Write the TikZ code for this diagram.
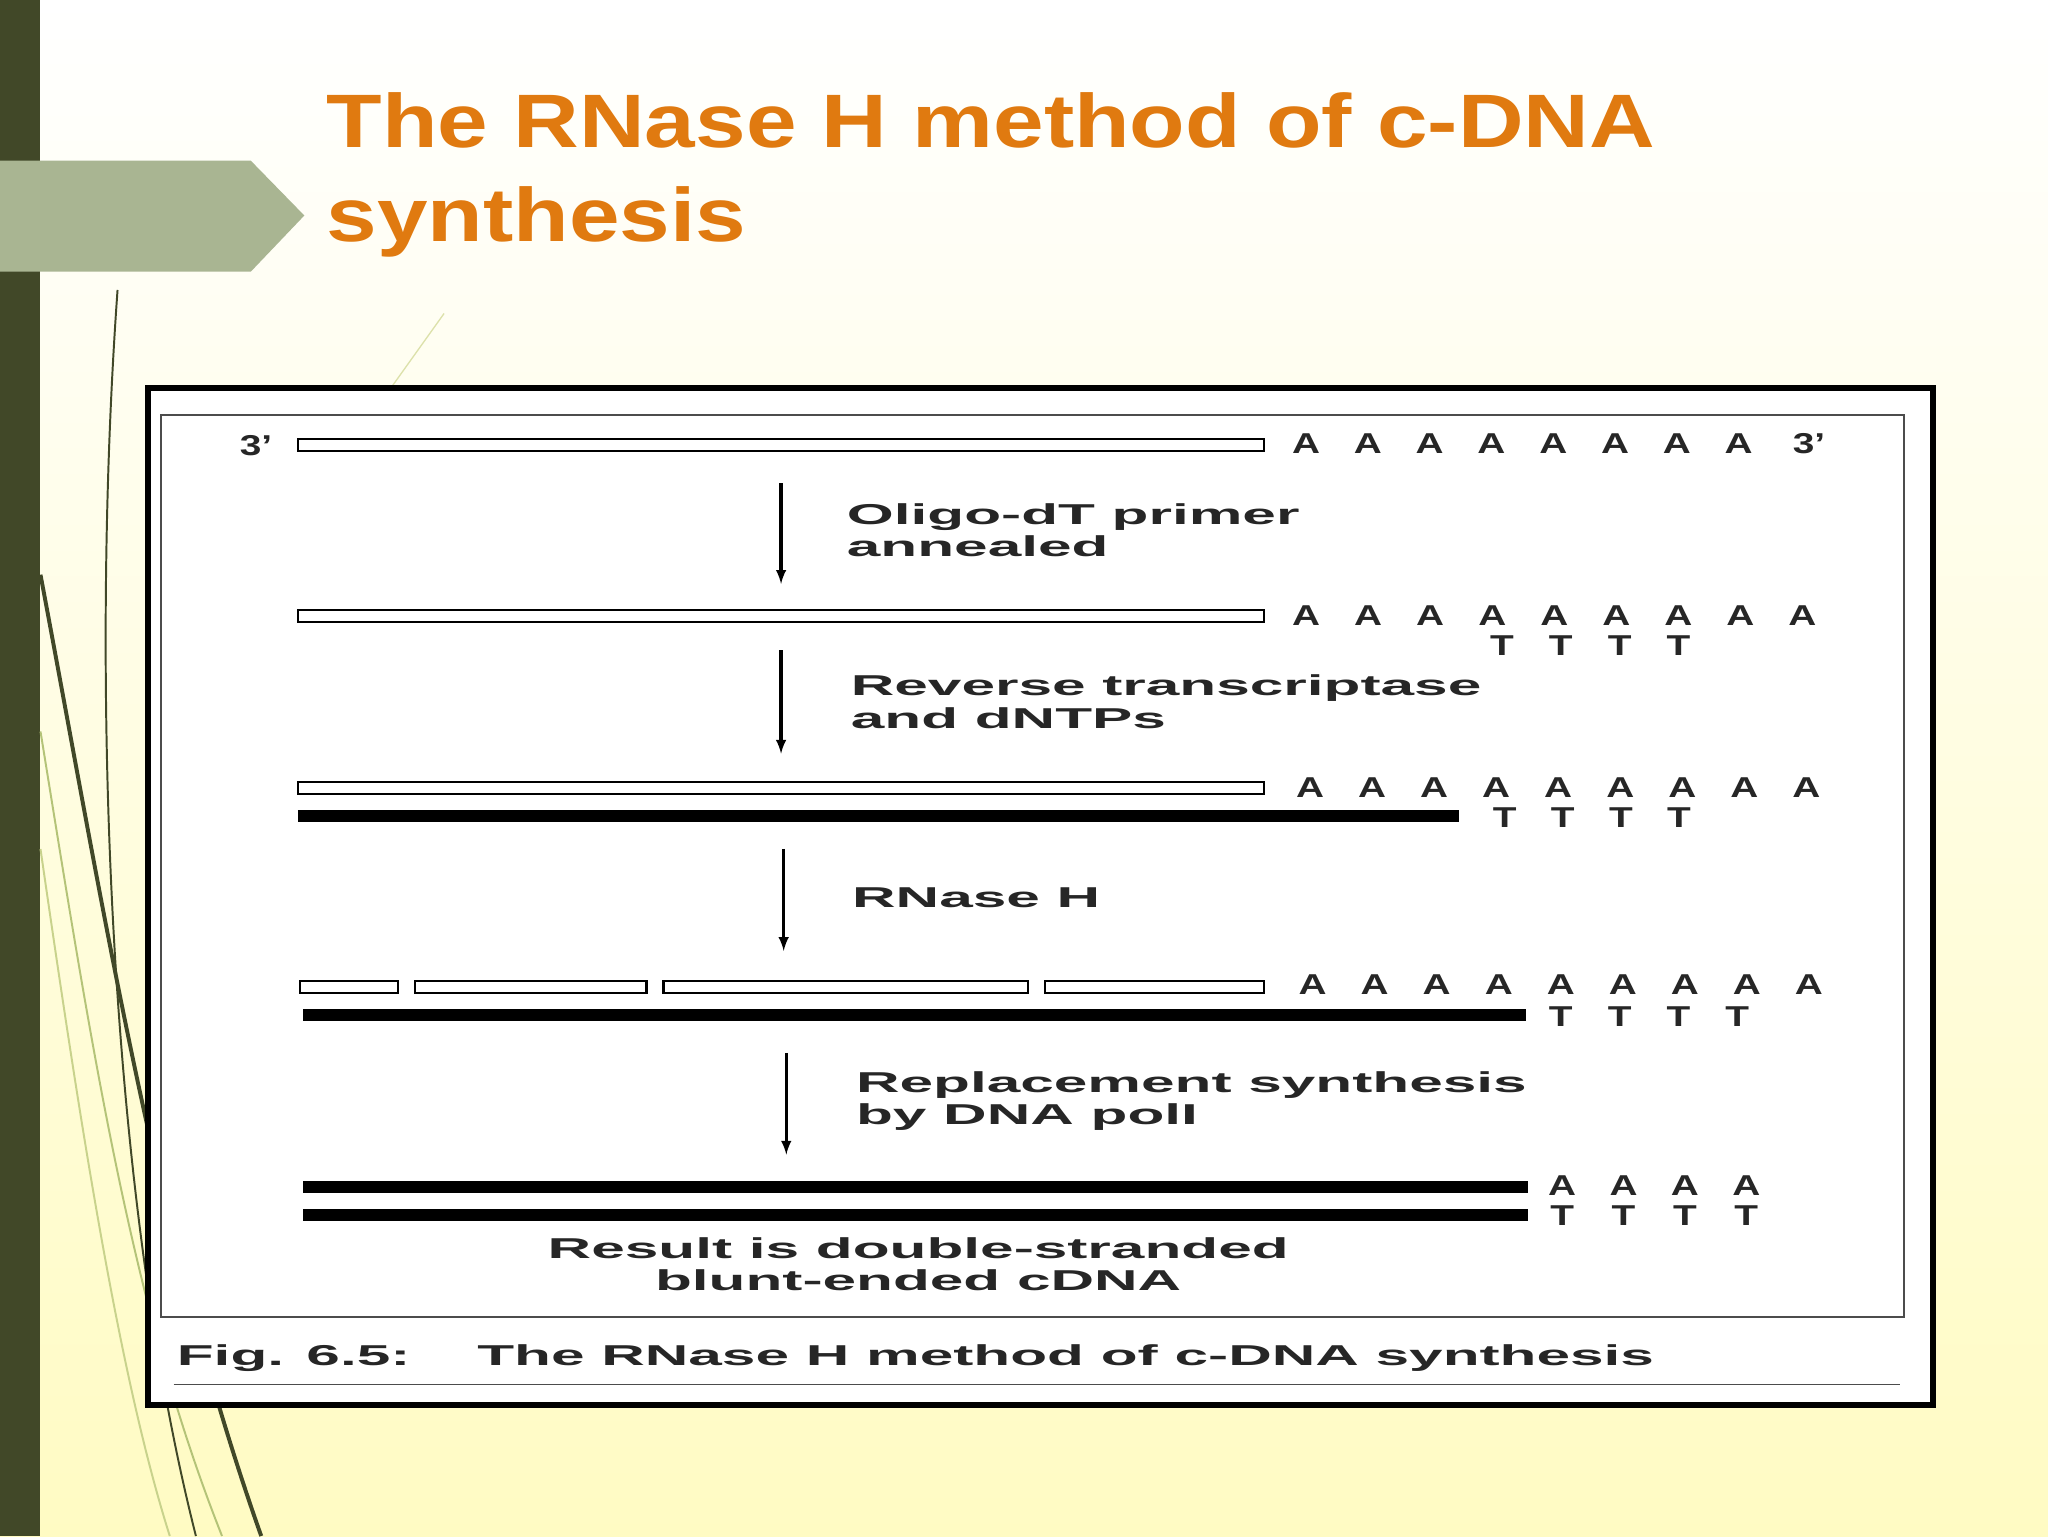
\documentclass[tikz,border=0pt]{standalone}
\usepackage{fontspec}
\setmainfont{Liberation Sans}
\definecolor{darkol}{RGB}{65,72,40}
\definecolor{sage}{RGB}{169,181,146}
\definecolor{lg1}{RGB}{180,195,120}
\definecolor{lg2}{RGB}{200,210,140}
\definecolor{lg3}{RGB}{220,225,170}
\definecolor{ttl}{RGB}{224,122,16}
\definecolor{bgy}{RGB}{255,251,195}
\begin{document}
\begin{tikzpicture}[x=1pt,y=-1pt,
  rna/.style={draw=black,line width=1.6pt,fill=white},
  dna/.style={line width=9pt,draw=black},
  base/.style={font=\fontsize{22}{22}\selectfont\bfseries,xscale=1.35,inner sep=0pt,text=black!85},
  lab/.style={font=\fontsize{22}{25}\selectfont\bfseries,xscale=2.1,anchor=west,align=left,inner sep=0pt,text=black!85},
  down/.style={-latex,line width=2.6pt}]
\useasboundingbox (0,0) rectangle (1568,1176);
\shade[top color=white,bottom color=bgy] (0,0) rectangle (1568,1176);
\fill[darkol] (0,0) rectangle (31,1176);
\fill[sage] (0,123) -- (192,123) -- (233,165) -- (192,208) -- (0,208) -- cycle;
\begin{scope}[line width=1.5pt]
\draw[darkol] (90,222) .. controls (70,500) and (80,900) .. (150,1176);
\draw[darkol,line width=3pt] (31,440) .. controls (80,700) and (120,950) .. (200,1176);
\draw[lg1] (31,560) .. controls (70,800) and (100,1000) .. (170,1176);
\draw[lg2] (31,650) .. controls (60,850) and (90,1050) .. (130,1176);
\draw[lg3,line width=1pt] (340,240) -- (300,296);
\end{scope}
\node[anchor=west,text=ttl,font=\fontsize{58}{72}\selectfont\bfseries,xscale=1.2,align=left,inner sep=0pt] (title) at (250,134) {The RNase H method of c-DNA\\synthesis};
\draw[line width=4.5pt,fill=white] (113,297) rectangle (1480,1076);
\draw[line width=1.5pt,black!70] (123,318) rectangle (1458,1008);
\draw[line width=1.5pt,black!70] (133,1060) -- (1455,1060);
\node[lab] (cap) at (135,1040) {Fig. 6.5:};
\node[lab] (cap2) at (365,1040) {The RNase H method of c-DNA synthesis};
% row1
\node[base] (t3a) at (196,341) {3'};
\draw[rna] (228,336) rectangle (968,345);
\foreach \i in {0,...,7} \node[base] (a1\i) at (1000+47.3*\i,340) {A};
\node[base] (t3b) at (1385,340) {3'};
\draw[down] (598,370) -- (598,447);
\node[lab] (l1) at (648,406) {Oligo-dT primer\\annealed};
% row2
\draw[rna] (228,467) rectangle (968,476);
\foreach \i in {0,...,8} \node[base] (a2\i) at (1000+47.5*\i,471) {A};
\foreach \i in {0,...,3} \node[base] (t2\i) at (1150+45*\i,494) {T};
\draw[down] (598,498) -- (598,577);
\node[lab] (l2) at (651,537) {Reverse transcriptase\\and dNTPs};
% row3
\draw[rna] (228,599) rectangle (968,608);
\foreach \i in {0,...,8} \node[base] (a3\i) at (1003+47.5*\i,603) {A};
\draw[dna] (228,625) -- (1117,625);
\foreach \i in {0,...,3} \node[base] (t3\i) at (1152+44.5*\i,626) {T};
\draw[down] (600,650) -- (600,728);
\node[lab] (l3) at (652,687) {RNase H};
% row4
\draw[rna] (230,751) rectangle (305,760);
\draw[rna] (318,751) rectangle (495,760);
\draw[rna] (508,751) rectangle (787,760);
\draw[rna] (800,751) rectangle (968,760);
\foreach \i in {0,...,8} \node[base] (a4\i) at (1005+47.5*\i,754) {A};
\draw[dna] (232,777) -- (1168,777);
\foreach \i in {0,...,3} \node[base] (t4\i) at (1195+45*\i,778) {T};
\draw[down] (602,806) -- (602,884);
\node[lab] (l4) at (655,843) {Replacement synthesis\\by DNA polI};
% row5
\draw[dna] (232,909) -- (1170,909);
\draw[dna] (232,930) -- (1170,930);
\foreach \i in {0,...,3} \node[base] (a5\i) at (1196+47*\i,908) {A};
\foreach \i in {0,...,3} \node[base] (t5\i) at (1196+47*\i,931) {T};
\node[lab,anchor=center,align=center] (res) at (703,968) {Result is double-stranded\\blunt-ended cDNA};
\end{tikzpicture}
\end{document}
